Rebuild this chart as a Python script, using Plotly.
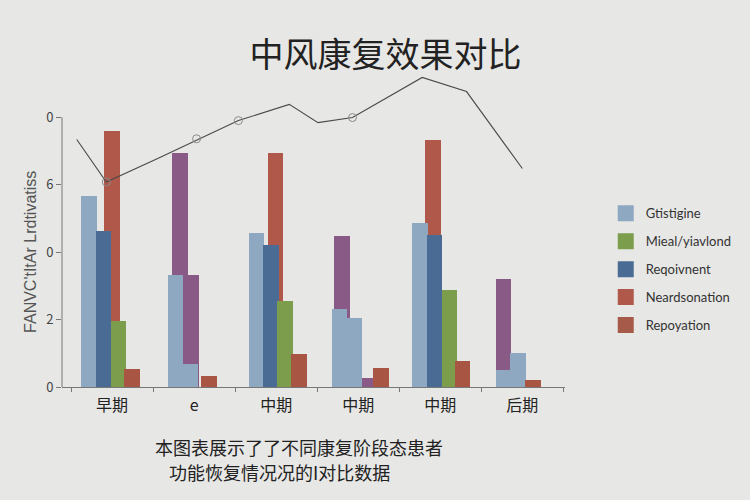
import plotly.graph_objects as go

# ---- data ----
categories = ["早期", "e", "中期", "中期", "中期", "后期"]
cat_pos = [0, 1, 2, 3, 4, 5]

light_blue_main = [5.66, 3.33, 4.56, 2.31, 4.86, 0.49]
light_blue_extra = [None, 0.69, None, 2.05, None, 1.02]
dark_blue = [4.64, None, 4.20, None, 4.51, None]
tall_red = [7.60, None, 6.95, None, 7.33, None]
purple_tall = [None, 6.95, None, 4.49, None, 3.21]
purple_short = [None, 3.33, None, 0.26, None, None]
green = [1.96, None, 2.54, None, 2.89, None]
small_red = [0.53, 0.34, 0.99, 0.56, 0.76, 0.22]

line_x = [-0.43, -0.07, 0.55, 1.54, 2.16, 2.51, 2.93, 3.78, 4.32, 5.0]
line_y = [7.34, 6.08, 6.77, 7.90, 8.38, 7.84, 7.99, 9.18, 8.76, 6.48]
marker_x = [-0.07, 1.03, 1.54, 2.93]
marker_y = [6.08, 7.36, 7.90, 7.99]

y_tickvals = [0, 2, 4, 6, 8]
y_ticktext = ["0", "2", "0", "6", "0"]

legend_names = ["Gtistigine", "Mieal/yiavlond", "Reqoivnent", "Neardsonation", "Repoyation"]

# ---- style (bar centre offsets within each group, in category units) ----
W = 0.19
def left(offs):
    return [o - W / 2 for o in offs]

C_LB, C_DB, C_RED, C_PUR, C_GRN, C_SRED = "#8DA8C0", "#4A6C94", "#B0584A", "#8A5A86", "#7C9E4C", "#A85544"

style = {
    "tall_red": dict(color=C_RED, off=[0.0, 0, -0.01, 0, -0.09, 0]),
    "purple_tall": dict(color=C_PUR, off=[0, -0.17, 0, -0.20, 0, -0.23]),
    "light_blue_main": dict(color=C_LB, off=[-0.28, -0.22, -0.24, -0.23, -0.25, -0.23]),
    "purple_short": dict(color=C_PUR, off=[0, -0.04, 0, 0.12, 0, 0]),
    "light_blue_extra": dict(color=C_LB, off=[0, -0.05, 0, -0.05, 0, -0.05]),
    "dark_blue": dict(color=C_DB, off=[-0.105, 0, -0.06, 0, -0.07, 0]),
    "green": dict(color=C_GRN, off=[0.08, 0, 0.11, 0, 0.11, 0]),
    "small_red": dict(color=C_SRED, off=[0.24, 0.18, 0.28, 0.28, 0.27, 0.13]),
}
legend_colors = [C_LB, C_GRN, C_DB, C_RED, "#A65A4A"]

series = [
    ("tall_red", tall_red),
    ("purple_tall", purple_tall),
    ("light_blue_main", light_blue_main),
    ("purple_short", purple_short),
    ("light_blue_extra", light_blue_extra),
    ("dark_blue", dark_blue),
    ("green", green),
    ("small_red", small_red),
]

fig = go.Figure()
for key, vals in series:
    st = style[key]
    fig.add_trace(go.Bar(
        x=cat_pos, y=vals, name=key, showlegend=False,
        width=W, offset=left(st["off"]),
        marker=dict(color=st["color"], line=dict(width=0)),
    ))

fig.add_trace(go.Scatter(
    x=line_x, y=line_y, mode="lines", showlegend=False,
    line=dict(color="#4A4A4A", width=1.1),
))
fig.add_trace(go.Scatter(
    x=marker_x, y=marker_y, mode="markers", showlegend=False,
    marker=dict(symbol="circle-open", size=8, color="#8A8A8A", line=dict(width=1)),
))

# legend entries (bigger square swatches)
for i, (nm, col) in enumerate(zip(legend_names, legend_colors)):
    fig.add_trace(go.Scatter(
        x=[None], y=[None], mode="markers", name=nm, legendgroup=nm, legendrank=i + 1,
        marker=dict(symbol="square", size=17, color=col),
    ))

fig.update_layout(
    width=750, height=500,
    barmode="overlay",
    paper_bgcolor="#E7E7E5",
    plot_bgcolor="#E7E7E5",
    margin=dict(l=62, r=185, t=70, b=113),
    font=dict(family="Noto Sans CJK SC, Noto Sans, sans-serif", color="#333333"),
    title=dict(text="中风康复效果对比", x=0.514, xanchor="center", y=0.89, yanchor="middle",
               font=dict(size=34, color="#222222", family="Noto Sans CJK SC")),
    legend=dict(x=1.081, y=0.595, xanchor="left", yanchor="top", bgcolor="rgba(0,0,0,0)",
                font=dict(size=13, color="#333333", family="Lato, Noto Sans, sans-serif"),
                tracegroupgap=8, traceorder="grouped", itemwidth=30),
    xaxis=dict(range=[-0.61, 5.52], tickvals=cat_pos, ticktext=categories,
               ticks="", showgrid=False, zeroline=False, showline=True,
               linecolor="#777777", linewidth=1, ticklabelstandoff=4,
               tickfont=dict(size=16, color="#222222", family="Noto Sans CJK SC"),
               minor=dict(ticks="outside", tick0=0.5, dtick=1, ticklen=4, tickcolor="#777777",
                          showgrid=False)),
    yaxis=dict(range=[0, 9.4], tickvals=y_tickvals, ticktext=y_ticktext,
               ticks="outside", ticklen=5, tickcolor="#777777",
               showgrid=False, zeroline=False, showline=False,
               tickfont=dict(size=13, color="#444444")),
    bargap=0,
)

fig.add_shape(type="line", xref="paper", yref="y", x0=0, x1=0, y0=0, y1=8,
              line=dict(color="#777777", width=1))

# y-axis title, centred on the 0..8 spine
fig.add_annotation(text="FANVC'tItAr Lrdtivatiss", xref="paper", yref="y",
                   x=-0.064, y=4, textangle=-90, showarrow=False,
                   xanchor="center", yanchor="middle",
                   font=dict(size=16, color="#555555", family="Liberation Sans Narrow, Liberation Sans, sans-serif"))

fig.add_annotation(text="本图表展示了了不同康复阶段态患者", xref="paper", yref="paper",
                   x=0.181, y=-0.19, xanchor="left", yanchor="middle", showarrow=False,
                   font=dict(size=18, color="#222222", family="Noto Sans CJK SC"))
fig.add_annotation(text="功能恢复情况况的I对比数据", xref="paper", yref="paper",
                   x=0.209, y=-0.269, xanchor="left", yanchor="middle", showarrow=False,
                   font=dict(size=18, color="#222222", family="Noto Sans CJK SC"))

fig.write_html("out.html", config={"displayModeBar": False},
               post_script="document.body.style.margin='0';document.body.style.background='#E7E7E5';")
